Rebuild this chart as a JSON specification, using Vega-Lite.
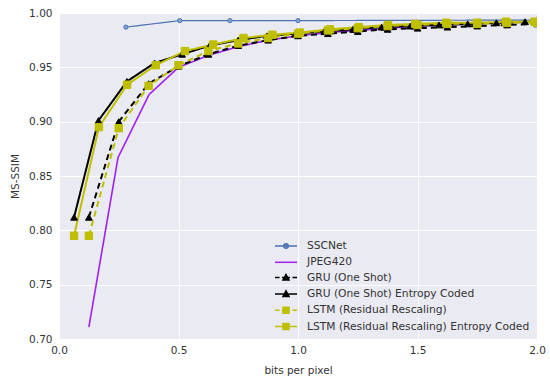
{
  "$schema": "https://vega.github.io/schema/vega-lite/v6.json",
  "width": 478,
  "height": 326,
  "autosize": "none",
  "padding": {"left": 59, "top": 13, "right": 13, "bottom": 41},
  "background": "white",
  "config": {
    "view": {"fill": "#EAEAF2", "stroke": null},
    "axis": {
      "domain": false, "ticks": false, "gridColor": "white", "gridWidth": 1, "gridOpacity": 1, "labelFlush": false,
      "labelFont": "DejaVu Sans", "labelFontSize": 10.5, "labelColor": "#333333",
      "titleFont": "DejaVu Sans", "titleFontSize": 10.5, "titleFontWeight": "normal", "titleColor": "#333333"
    },
    "legend": {
      "title": null, "orient": "none", "legendX": 221, "legendY": 227,
      "symbolSize": 100, "symbolStrokeWidth": 1.5, "labelOffset": 15, "rowPadding": 4.3,
      "labelFont": "DejaVu Sans", "labelFontSize": 10.7, "labelColor": "#333333", "padding": 0, "labelLimit": 400,
      "symbolOpacity": 1
    }
  },
  "data": {"values": [
    {"series": "SSCNet", "x": 0.28, "y": 0.987},
    {"series": "SSCNet", "x": 0.505, "y": 0.993},
    {"series": "SSCNet", "x": 0.715, "y": 0.993},
    {"series": "SSCNet", "x": 1.0, "y": 0.993},
    {"series": "SSCNet", "x": 2.0, "y": 0.9935},
    {"series": "JPEG420", "x": 0.125, "y": 0.711},
    {"series": "JPEG420", "x": 0.247, "y": 0.867},
    {"series": "JPEG420", "x": 0.377, "y": 0.925},
    {"series": "JPEG420", "x": 0.5, "y": 0.950},
    {"series": "JPEG420", "x": 0.625, "y": 0.961},
    {"series": "JPEG420", "x": 0.75, "y": 0.969},
    {"series": "JPEG420", "x": 0.875, "y": 0.975},
    {"series": "JPEG420", "x": 1.0, "y": 0.979},
    {"series": "JPEG420", "x": 1.125, "y": 0.982},
    {"series": "JPEG420", "x": 1.25, "y": 0.984},
    {"series": "JPEG420", "x": 1.375, "y": 0.986},
    {"series": "JPEG420", "x": 1.5, "y": 0.988},
    {"series": "JPEG420", "x": 1.625, "y": 0.989},
    {"series": "JPEG420", "x": 1.75, "y": 0.990},
    {"series": "JPEG420", "x": 1.875, "y": 0.991},
    {"series": "JPEG420", "x": 2.0, "y": 0.992},
    {"series": "GRU (One Shot)", "x": 0.125, "y": 0.812},
    {"series": "GRU (One Shot)", "x": 0.25, "y": 0.900},
    {"series": "GRU (One Shot)", "x": 0.375, "y": 0.935},
    {"series": "GRU (One Shot)", "x": 0.5, "y": 0.951},
    {"series": "GRU (One Shot)", "x": 0.625, "y": 0.962},
    {"series": "GRU (One Shot)", "x": 0.75, "y": 0.970},
    {"series": "GRU (One Shot)", "x": 0.875, "y": 0.975},
    {"series": "GRU (One Shot)", "x": 1.0, "y": 0.979},
    {"series": "GRU (One Shot)", "x": 1.125, "y": 0.981},
    {"series": "GRU (One Shot)", "x": 1.25, "y": 0.983},
    {"series": "GRU (One Shot)", "x": 1.375, "y": 0.985},
    {"series": "GRU (One Shot)", "x": 1.5, "y": 0.986},
    {"series": "GRU (One Shot)", "x": 1.625, "y": 0.987},
    {"series": "GRU (One Shot)", "x": 1.75, "y": 0.988},
    {"series": "GRU (One Shot)", "x": 1.875, "y": 0.989},
    {"series": "GRU (One Shot)", "x": 2.0, "y": 0.990},
    {"series": "GRU (One Shot) Entropy Coded", "x": 0.063, "y": 0.812},
    {"series": "GRU (One Shot) Entropy Coded", "x": 0.165, "y": 0.901},
    {"series": "GRU (One Shot) Entropy Coded", "x": 0.284, "y": 0.937},
    {"series": "GRU (One Shot) Entropy Coded", "x": 0.40, "y": 0.954},
    {"series": "GRU (One Shot) Entropy Coded", "x": 0.515, "y": 0.962},
    {"series": "GRU (One Shot) Entropy Coded", "x": 0.63, "y": 0.970},
    {"series": "GRU (One Shot) Entropy Coded", "x": 0.75, "y": 0.975},
    {"series": "GRU (One Shot) Entropy Coded", "x": 0.87, "y": 0.979},
    {"series": "GRU (One Shot) Entropy Coded", "x": 0.99, "y": 0.981},
    {"series": "GRU (One Shot) Entropy Coded", "x": 1.11, "y": 0.983},
    {"series": "GRU (One Shot) Entropy Coded", "x": 1.23, "y": 0.985},
    {"series": "GRU (One Shot) Entropy Coded", "x": 1.35, "y": 0.987},
    {"series": "GRU (One Shot) Entropy Coded", "x": 1.47, "y": 0.988},
    {"series": "GRU (One Shot) Entropy Coded", "x": 1.59, "y": 0.989},
    {"series": "GRU (One Shot) Entropy Coded", "x": 1.71, "y": 0.990},
    {"series": "GRU (One Shot) Entropy Coded", "x": 1.83, "y": 0.991},
    {"series": "GRU (One Shot) Entropy Coded", "x": 1.95, "y": 0.992},
    {"series": "LSTM (Residual Rescaling)", "x": 0.125, "y": 0.795},
    {"series": "LSTM (Residual Rescaling)", "x": 0.25, "y": 0.894},
    {"series": "LSTM (Residual Rescaling)", "x": 0.375, "y": 0.933},
    {"series": "LSTM (Residual Rescaling)", "x": 0.5, "y": 0.952},
    {"series": "LSTM (Residual Rescaling)", "x": 0.625, "y": 0.965},
    {"series": "LSTM (Residual Rescaling)", "x": 0.75, "y": 0.972},
    {"series": "LSTM (Residual Rescaling)", "x": 0.875, "y": 0.977},
    {"series": "LSTM (Residual Rescaling)", "x": 1.0, "y": 0.981},
    {"series": "LSTM (Residual Rescaling)", "x": 1.125, "y": 0.984},
    {"series": "LSTM (Residual Rescaling)", "x": 1.25, "y": 0.986},
    {"series": "LSTM (Residual Rescaling)", "x": 1.375, "y": 0.988},
    {"series": "LSTM (Residual Rescaling)", "x": 1.5, "y": 0.989},
    {"series": "LSTM (Residual Rescaling)", "x": 1.625, "y": 0.990},
    {"series": "LSTM (Residual Rescaling)", "x": 1.75, "y": 0.990},
    {"series": "LSTM (Residual Rescaling)", "x": 1.875, "y": 0.991},
    {"series": "LSTM (Residual Rescaling)", "x": 2.0, "y": 0.991},
    {"series": "LSTM (Residual Rescaling) Entropy Coded", "x": 0.063, "y": 0.795},
    {"series": "LSTM (Residual Rescaling) Entropy Coded", "x": 0.167, "y": 0.895},
    {"series": "LSTM (Residual Rescaling) Entropy Coded", "x": 0.285, "y": 0.934},
    {"series": "LSTM (Residual Rescaling) Entropy Coded", "x": 0.405, "y": 0.952},
    {"series": "LSTM (Residual Rescaling) Entropy Coded", "x": 0.527, "y": 0.965},
    {"series": "LSTM (Residual Rescaling) Entropy Coded", "x": 0.645, "y": 0.971},
    {"series": "LSTM (Residual Rescaling) Entropy Coded", "x": 0.772, "y": 0.977},
    {"series": "LSTM (Residual Rescaling) Entropy Coded", "x": 0.893, "y": 0.980},
    {"series": "LSTM (Residual Rescaling) Entropy Coded", "x": 1.008, "y": 0.982},
    {"series": "LSTM (Residual Rescaling) Entropy Coded", "x": 1.134, "y": 0.985},
    {"series": "LSTM (Residual Rescaling) Entropy Coded", "x": 1.255, "y": 0.987},
    {"series": "LSTM (Residual Rescaling) Entropy Coded", "x": 1.377, "y": 0.989},
    {"series": "LSTM (Residual Rescaling) Entropy Coded", "x": 1.49, "y": 0.990},
    {"series": "LSTM (Residual Rescaling) Entropy Coded", "x": 1.62, "y": 0.991},
    {"series": "LSTM (Residual Rescaling) Entropy Coded", "x": 1.75, "y": 0.991},
    {"series": "LSTM (Residual Rescaling) Entropy Coded", "x": 1.87, "y": 0.992},
    {"series": "LSTM (Residual Rescaling) Entropy Coded", "x": 1.99, "y": 0.992}
  ]},
  "encoding": {
    "x": {"field": "x", "type": "quantitative", "title": "bits per pixel",
          "scale": {"domain": [0, 2], "nice": false, "zero": false},
          "axis": {"values": [0, 0.5, 1, 1.5, 2], "format": ".1f", "labelPadding": 6, "titlePadding": 10}},
    "y": {"field": "y", "type": "quantitative", "title": "MS-SSIM",
          "scale": {"domain": [0.7, 1.0], "nice": false, "zero": false},
          "axis": {"values": [0.7, 0.75, 0.8, 0.85, 0.9, 0.95, 1.0], "format": ".2f", "labelPadding": 7, "titlePadding": 8}}
  },
  "layer": [
    {
      "mark": {"type": "line", "clip": true},
      "encoding": {
        "color": {"field": "series", "type": "nominal", "legend": null,
          "scale": {"domain": ["SSCNet", "JPEG420", "GRU (One Shot)", "GRU (One Shot) Entropy Coded", "LSTM (Residual Rescaling)", "LSTM (Residual Rescaling) Entropy Coded"],
                    "range": ["#4C72B0", "#A020F0", "#000000", "#000000", "#BFBF00", "#BFBF00"]}},
        "strokeDash": {"field": "series", "type": "nominal", "legend": null,
          "scale": {"domain": ["SSCNet", "JPEG420", "GRU (One Shot)", "GRU (One Shot) Entropy Coded", "LSTM (Residual Rescaling)", "LSTM (Residual Rescaling) Entropy Coded"],
                    "range": [[1, 0], [1, 0], [6, 4], [1, 0], [6, 4], [1, 0]]}},
        "strokeWidth": {"field": "series", "type": "nominal", "legend": null,
          "scale": {"type": "ordinal", "domain": ["SSCNet", "JPEG420", "GRU (One Shot)", "GRU (One Shot) Entropy Coded", "LSTM (Residual Rescaling)", "LSTM (Residual Rescaling) Entropy Coded"],
                    "range": [1.2, 1.6, 2, 2, 2, 2]}}
      }
    },
    {
      "transform": [{"filter": "datum.series != 'JPEG420'"}],
      "mark": {"type": "point", "filled": true, "clip": true, "opacity": 1, "strokeWidth": 1},
      "encoding": {
        "shape": {"field": "series", "type": "nominal", "legend": null,
          "scale": {"domain": ["SSCNet", "GRU (One Shot)", "GRU (One Shot) Entropy Coded", "LSTM (Residual Rescaling)", "LSTM (Residual Rescaling) Entropy Coded"],
                    "range": ["circle", "triangle-up", "triangle-up", "square", "square"]}},
        "fill": {"field": "series", "type": "nominal", "legend": null,
          "scale": {"domain": ["SSCNet", "GRU (One Shot)", "GRU (One Shot) Entropy Coded", "LSTM (Residual Rescaling)", "LSTM (Residual Rescaling) Entropy Coded"],
                    "range": ["#7FA7DA", "#000000", "#000000", "#BFBF00", "#BFBF00"]}},
        "stroke": {"field": "series", "type": "nominal", "legend": null,
          "scale": {"domain": ["SSCNet", "GRU (One Shot)", "GRU (One Shot) Entropy Coded", "LSTM (Residual Rescaling)", "LSTM (Residual Rescaling) Entropy Coded"],
                    "range": ["#4C72B0", "#000000", "#000000", "#BFBF00", "#BFBF00"]}},
        "size": {"field": "series", "type": "nominal", "legend": null,
          "scale": {"type": "ordinal", "domain": ["SSCNet", "GRU (One Shot)", "GRU (One Shot) Entropy Coded", "LSTM (Residual Rescaling)", "LSTM (Residual Rescaling) Entropy Coded"],
                    "range": [18, 45, 45, 55, 55]}}
      }
    },
    {
      "transform": [{"filter": "datum.x > 100"}],
      "mark": {"type": "point", "filled": true, "opacity": 1, "strokeWidth": 1.5},
      "encoding": {
        "shape": {"field": "series", "type": "nominal", "title": null,
          "scale": {"domain": ["SSCNet", "JPEG420", "GRU (One Shot)", "GRU (One Shot) Entropy Coded", "LSTM (Residual Rescaling)", "LSTM (Residual Rescaling) Entropy Coded"],
                    "range": [
                      "M-2.2,0H2.2M-0.45,0A0.45,0.45,0,1,0,0.45,0A0.45,0.45,0,1,0,-0.45,0Z",
                      "M-2.2,0H2.2",
                      "M-2.2,0H-1.3M-0.8,0H0.8M1.3,0H2.2M0,-0.6L0.6,0.5H-0.6Z",
                      "M-2.2,0H2.2M0,-0.6L0.6,0.5H-0.6Z",
                      "M-2.2,0H-1.3M-0.8,0H0.8M1.3,0H2.2M-0.6,-0.6H0.6V0.6H-0.6Z",
                      "M-2.2,0H2.2M-0.6,-0.6H0.6V0.6H-0.6Z"
                    ]}},
        "fill": {"field": "series", "type": "nominal", "title": null,
          "scale": {"domain": ["SSCNet", "JPEG420", "GRU (One Shot)", "GRU (One Shot) Entropy Coded", "LSTM (Residual Rescaling)", "LSTM (Residual Rescaling) Entropy Coded"],
                    "range": ["#7FA7DA", "#A020F0", "#000000", "#000000", "#BFBF00", "#BFBF00"]}},
        "stroke": {"field": "series", "type": "nominal", "title": null,
          "scale": {"domain": ["SSCNet", "JPEG420", "GRU (One Shot)", "GRU (One Shot) Entropy Coded", "LSTM (Residual Rescaling)", "LSTM (Residual Rescaling) Entropy Coded"],
                    "range": ["#4C72B0", "#A020F0", "#000000", "#000000", "#BFBF00", "#BFBF00"]}}
      }
    }
  ],
  "resolve": {"scale": {"shape": "independent", "fill": "independent", "stroke": "independent"}, "legend": {"shape": "independent", "fill": "independent", "stroke": "independent"}}
}
